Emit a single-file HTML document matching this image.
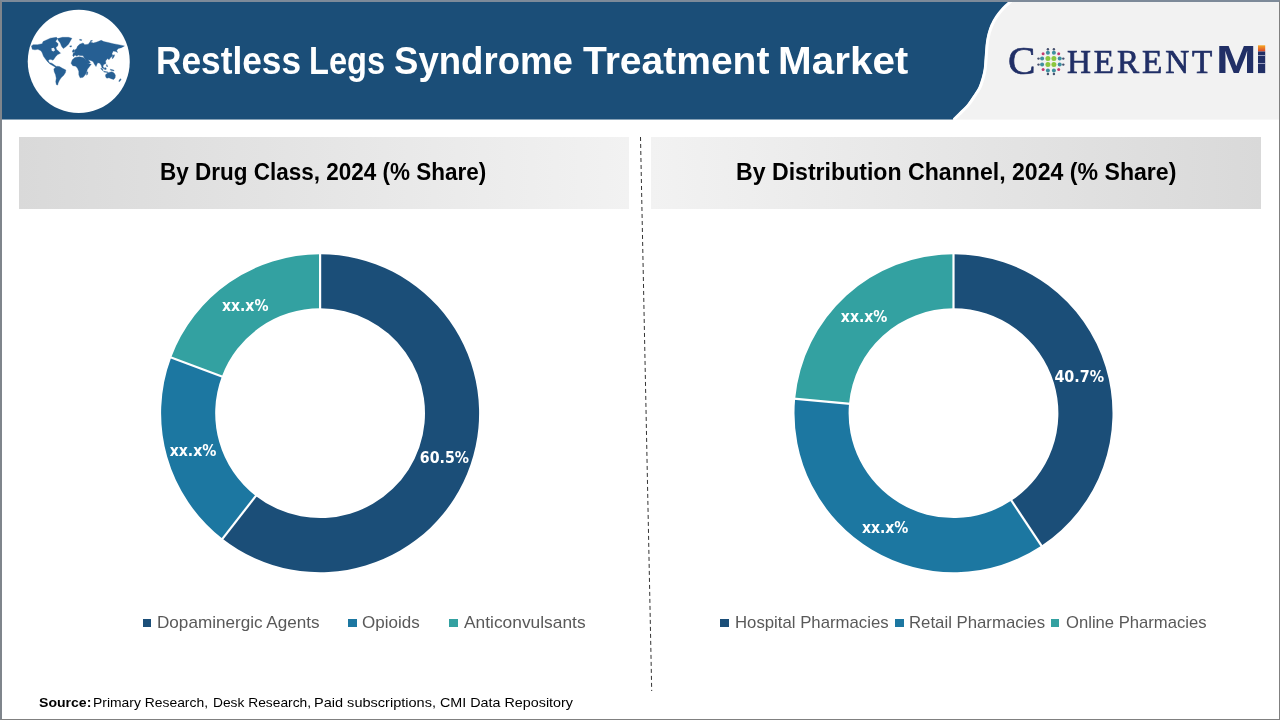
<!DOCTYPE html>
<html lang="en"><head><meta charset="utf-8">
<title>Restless Legs Syndrome Treatment Market</title>
<style>
html,body{margin:0;padding:0;background:#fff}
body{width:1280px;height:720px;position:relative;overflow:hidden;font-family:"Liberation Sans",sans-serif}
.frame{position:absolute;left:0;top:0;width:1280px;height:720px;box-sizing:border-box;border-style:solid;border-color:#7d8a99 #808080 #808080 #7f858c;border-width:2px 1.5px 1.5px 2px;pointer-events:none;z-index:9}
.t{position:absolute;white-space:nowrap;line-height:1;transform-origin:0 50%;margin:0;font-weight:normal;display:block}
header{position:absolute;left:0;top:0;width:1280px;height:120px}
header svg.bg{position:absolute;left:0;top:0}
.title{color:#fff;font-weight:bold}
.hw{margin:0;font-size:0;font-weight:normal}
.sub{position:absolute;top:137px;height:71.5px}
.sub.l{left:19px;width:609.5px;background:linear-gradient(90deg,#d9d9d9 0%,#f2f2f2 100%)}
.sub.r{left:651px;width:609.5px;background:linear-gradient(90deg,#f2f2f2 0%,#d9d9d9 100%)}
.h2{color:#000;font-weight:bold}
.lg{color:#595959}
.mk{position:absolute;width:8.8px;height:7.8px;top:619.1px}
.legend{list-style:none;margin:0;padding:0;font-size:0}
.legend li{display:inline}
.src{color:#000}
.sb{font-weight:bold}
svg.charts{position:absolute;left:0;top:0}
svg.charts text{font-family:"DejaVu Sans","Liberation Sans",sans-serif;font-weight:bold;font-size:16.5px;fill:#fff}
.logo{color:#212f66}
#lgM{font-weight:bold}
#lgH{letter-spacing:2.9px}
.serif{font-family:"Liberation Serif",serif;-webkit-text-stroke:0.7px #212f66}
</style></head>
<body>
<header>
<svg class="bg" width="1280" height="120" viewBox="0 0 1280 120">
<rect x="0" y="0" width="1280" height="119.6" fill="#f2f2f2"/>
<path d="M1011.5 0.0C1011.0 0.4 1010.3 0.7 1008.8 2.1C1007.2 3.5 1004.3 5.9 1002.1 8.3C999.9 10.7 997.3 13.9 995.4 16.7C993.5 19.5 992.0 22.2 990.8 25.0C989.5 27.8 988.7 30.5 987.9 33.3C987.1 36.1 986.7 38.9 986.2 41.7C985.8 44.5 985.6 47.2 985.4 50.0C985.2 52.8 985.0 55.1 984.8 58.3C984.5 61.5 984.4 65.7 983.9 69.0C983.4 72.3 982.8 75.0 981.9 78.0C981.0 81.0 980.2 84.1 978.8 87.1C977.4 90.1 975.3 93.1 973.3 96.1C971.3 99.1 969.5 102.1 967.0 105.1C964.5 108.1 960.4 111.8 958.0 114.2C955.6 116.6 953.5 118.7 952.6 119.6L0 119.6L0 0Z" fill="#1b4e78"/><path d="M1011.5 0.0C1011.0 0.4 1010.3 0.7 1008.8 2.1C1007.2 3.5 1004.3 5.9 1002.1 8.3C999.9 10.7 997.3 13.9 995.4 16.7C993.5 19.5 992.0 22.2 990.8 25.0C989.5 27.8 988.7 30.5 987.9 33.3C987.1 36.1 986.7 38.9 986.2 41.7C985.8 44.5 985.6 47.2 985.4 50.0C985.2 52.8 985.0 55.1 984.8 58.3C984.5 61.5 984.4 65.7 983.9 69.0C983.4 72.3 982.8 75.0 981.9 78.0C981.0 81.0 980.2 84.1 978.8 87.1C977.4 90.1 975.3 93.1 973.3 96.1C971.3 99.1 969.5 102.1 967.0 105.1C964.5 108.1 960.4 111.8 958.0 114.2C955.6 116.6 953.5 118.7 952.6 119.6" fill="none" stroke="#fff" stroke-width="3" transform="translate(1.3 0)"/>
<ellipse cx="78.75" cy="61.4" rx="51" ry="51.6" fill="#fff"/>
<g fill="#265f93" stroke="#265f93" stroke-width="4" stroke-linejoin="round" transform="translate(28 30) scale(0.0861)">
<polygon points="40,185 60,170 110,170 165,160 175,135 215,115 260,95 330,85 345,100 320,130 350,160 345,185 325,200 330,225 365,255 378,270 345,285 320,310 300,340 290,352 280,345 255,340 235,355 250,380 275,385 290,395 310,410 330,425 318,432 290,415 255,395 225,365 205,340 180,305 165,265 150,240 115,225 80,230 50,225 45,205"/>
<polygon points="345,100 400,85 470,85 510,97 490,130 470,165 440,195 410,215 390,190 375,150 350,120"/>
<polygon points="310,440 335,420 365,425 400,445 440,465 435,495 415,525 385,555 365,585 350,615 345,640 330,635 322,600 328,560 320,520 305,485 300,455"/>
<polygon points="500,385 515,345 545,320 600,310 640,320 660,335 685,370 700,395 735,395 715,425 690,455 680,490 665,520 640,550 605,555 590,520 590,480 575,445 555,420 520,415"/>
<polygon points="520,300 525,270 545,255 535,240 565,215 575,190 600,165 640,150 660,170 700,165 720,140 760,150 800,140 850,120 880,135 930,145 990,160 1050,170 1120,185 1085,205 1050,215 1030,235 1040,262 1020,250 990,245 975,275 985,300 960,320 940,345 925,330 900,360 905,390 880,400 870,420 885,450 860,440 850,410 835,385 810,380 800,400 790,425 770,395 755,365 730,355 700,345 725,380 700,395 680,375 660,335 650,320 640,300 600,295 580,290 570,305 545,290 530,310"/>
<polygon points="900,520 925,500 950,490 975,485 1000,500 1015,525 1012,555 995,575 965,565 940,555 915,560 903,545"/>
<polygon points="1060,580 1075,565 1082,572 1068,595 1055,598"/>
<polygon points="850,440 875,465 870,472 845,450"/>
<polygon points="885,440 905,438 910,455 892,462"/>
<polygon points="880,480 930,488 930,494 880,488"/>
<polygon points="955,455 995,465 1000,476 960,468"/>
<polygon points="915,400 925,420 918,430 910,410"/>
<polygon points="985,300 1000,285 1005,300 990,325 980,335 978,320"/>
<polygon points="520,235 535,225 540,250 525,262 515,255"/>
<polygon points="485,185 505,183 505,195 488,197"/>
<polygon points="680,495 695,485 692,515 680,525"/>
<polygon points="600,108 625,112 622,122 600,118"/>
<polygon points="720,128 745,120 748,128 725,136"/>
<polygon points="272,212 300,206 314,234 296,250 276,240" fill="#e9eef5" stroke="none"/>
</g>
</svg>
<h1 class="hw"><span id="tw1" class="t title" style="left:155.56340782122902px;top:41.30px;font-size:39.1px;transform:scaleX(0.9024)">Restless</span> <span id="tw2" class="t title" style="left:309.0860645561766px;top:41.30px;font-size:39.1px;transform:scaleX(0.8344)">Legs</span> <span id="tw3" class="t title" style="left:393.99832402234654px;top:41.30px;font-size:39.1px;transform:scaleX(0.9357)">Syndrome</span> <span id="tw4" class="t title" style="left:583.2176288019864px;top:41.30px;font-size:39.1px;transform:scaleX(0.9981)">Treatment</span> <span id="tw5" class="t title" style="left:777.8301572522241px;top:41.30px;font-size:39.1px;transform:scaleX(1.0346)">Market</span></h1>
<span id="lgC" class="t logo serif" style="left:1007.5548890741212px;top:39.59px;font-size:41px;transform:scaleX(1.0044)">C</span>
<span id="lgH" class="t logo serif" style="left:1067.39642857143px;top:44.73px;font-size:33.4px;transform:scaleX(0.9935)">HERENT</span>
<span id="lgM" class="t logo" style="left:1215.549551166965px;top:40.02px;font-size:39.2px;transform:scaleX(1.2389)">M</span>
<svg class="bg" width="1280" height="120" viewBox="0 0 1280 120" aria-hidden="true">
<g transform="translate(1050.9 61.6)">
<g fill="#8cc63f"><circle cx="-3" cy="-3" r="2.5"/><circle cx="3" cy="-3" r="2.5"/><circle cx="-3" cy="3" r="2.5"/><circle cx="3" cy="3" r="2.5"/></g>
<g fill="#3f8f9f"><circle cx="-3" cy="-8.8" r="2"/><circle cx="3" cy="-8.8" r="2"/><circle cx="-3" cy="8.8" r="2"/><circle cx="3" cy="8.8" r="2"/><circle cx="-8.8" cy="-3" r="2"/><circle cx="-8.8" cy="3" r="2"/><circle cx="8.8" cy="-3" r="2"/><circle cx="8.8" cy="3" r="2"/></g>
<g fill="#c43a6e"><circle cx="-7.8" cy="-7.8" r="1.5"/><circle cx="7.8" cy="-7.8" r="1.5"/><circle cx="-7.8" cy="7.8" r="1.5"/><circle cx="7.8" cy="7.8" r="1.5"/></g>
<g fill="#46506e"><circle cx="-3" cy="-12.4" r="1.2"/><circle cx="3" cy="-12.4" r="1.2"/><circle cx="-3" cy="12.4" r="1.2"/><circle cx="3" cy="12.4" r="1.2"/><circle cx="-12.4" cy="-3" r="1.2"/><circle cx="-12.4" cy="3" r="1.2"/><circle cx="12.4" cy="-3" r="1.2"/><circle cx="12.4" cy="3" r="1.2"/></g>
</g>
<defs><linearGradient id="og" x1="0" y1="0" x2="0" y2="1"><stop offset="0" stop-color="#f7a823"/><stop offset="1" stop-color="#d8432c"/></linearGradient></defs>
<rect x="1258" y="45.3" width="7.2" height="6.2" fill="url(#og)"/>
<rect x="1258" y="51.5" width="7.2" height="21.6" fill="#212f66"/>
<rect x="1258" y="55.2" width="7.2" height="0.7" fill="#c9cbe0"/>
<rect x="1258" y="63.3" width="7.2" height="0.7" fill="#c9cbe0"/>
</svg>
</header>

<main>
<div class="sub l"></div>
<div class="sub r"></div>
<h2 id="h2a" class="t h2" style="left:160.37067170870543px;top:159.81px;font-size:24.2px;transform:scaleX(0.9300)">By Drug Class, 2024 (% Share)</h2>
<h2 id="h2b" class="t h2" style="left:735.9877286135687px;top:159.81px;font-size:24.2px;transform:scaleX(0.9553)">By Distribution Channel, 2024 (% Share)</h2>

<svg class="charts" width="1280" height="720" viewBox="0 0 1280 720">
<line x1="640.5" y1="137" x2="651.7" y2="691" stroke="#333" stroke-width="1" stroke-dasharray="4 3"/>
<path d="M320.10 254.20A159.0 159.0 0 1 1 222.54 538.75L255.73 496.03A104.9 104.9 0 1 0 320.10 308.30Z" fill="#1b4e78"/>
<path d="M222.54 538.75A159.0 159.0 0 0 1 171.17 357.52L221.84 376.46A104.9 104.9 0 0 0 255.73 496.03Z" fill="#1c77a1"/>
<path d="M171.17 357.52A159.0 159.0 0 0 1 320.10 254.20L320.10 308.30A104.9 104.9 0 0 0 221.84 376.46Z" fill="#33a1a1"/>
<line x1="320.10" y1="309.80" x2="320.10" y2="252.70" stroke="#fff" stroke-width="2.2"/>
<line x1="256.65" y1="494.85" x2="221.62" y2="539.93" stroke="#fff" stroke-width="2.2"/>
<line x1="223.25" y1="376.99" x2="169.76" y2="356.99" stroke="#fff" stroke-width="2.2"/>
<path d="M953.50 254.20A159.0 159.0 0 0 1 1041.37 545.71L1011.47 500.62A104.9 104.9 0 0 0 953.50 308.30Z" fill="#1b4e78"/>
<path d="M1041.37 545.71A159.0 159.0 0 0 1 795.15 398.79L849.03 403.69A104.9 104.9 0 0 0 1011.47 500.62Z" fill="#1c77a1"/>
<path d="M795.15 398.79A159.0 159.0 0 0 1 953.50 254.20L953.50 308.30A104.9 104.9 0 0 0 849.03 403.69Z" fill="#33a1a1"/>
<line x1="953.50" y1="309.80" x2="953.50" y2="252.70" stroke="#fff" stroke-width="2.2"/>
<line x1="1010.65" y1="499.37" x2="1042.20" y2="546.96" stroke="#fff" stroke-width="2.2"/>
<line x1="850.53" y1="403.83" x2="793.66" y2="398.65" stroke="#fff" stroke-width="2.2"/>
<text id="d1a" x="419.82" y="463.0" textLength="49.27" lengthAdjust="spacingAndGlyphs">60.5%</text>
<text id="d1b" x="169.64" y="456.0" textLength="46.76" lengthAdjust="spacingAndGlyphs">xx.x%</text>
<text id="d1c" x="221.95" y="311.0" textLength="46.53" lengthAdjust="spacingAndGlyphs">xx.x%</text>
<text id="d2a" x="1054.39" y="382.1" textLength="49.77" lengthAdjust="spacingAndGlyphs">40.7%</text>
<text id="d2b" x="861.92" y="533.0" textLength="46.47" lengthAdjust="spacingAndGlyphs">xx.x%</text>
<text id="d2c" x="840.87" y="322.0" textLength="46.54" lengthAdjust="spacingAndGlyphs">xx.x%</text>

</svg>

<ul class="legend" aria-label="Drug class legend">
<li><i class="mk" style="left:143.1px;width:7.9px;background:#1b4e78"></i><span id="l1" class="t lg" style="left:157.41204819277112px;top:614.61px;font-size:15.7px;transform:scaleX(1.0904)">Dopaminergic Agents</span></li>
<li><i class="mk" style="left:348.1px;background:#1c77a1"></i><span id="l2" class="t lg" style="left:362.14578313252997px;top:614.61px;font-size:15.7px;transform:scaleX(1.0835)">Opioids</span></li>
<li><i class="mk" style="left:449.0px;background:#33a1a1"></i><span id="l3" class="t lg" style="left:463.6078313253013px;top:614.61px;font-size:15.7px;transform:scaleX(1.1069)">Anticonvulsants</span></li>
</ul>
<ul class="legend" aria-label="Distribution channel legend">
<li><i class="mk" style="left:720.0px;background:#1b4e78"></i><span id="l4" class="t lg" style="left:734.6337349397583px;top:614.61px;font-size:15.7px;transform:scaleX(1.0679)">Hospital Pharmacies</span></li>
<li><i class="mk" style="left:895.0px;background:#1c77a1"></i><span id="l5" class="t lg" style="left:908.8277108433728px;top:614.61px;font-size:15.7px;transform:scaleX(1.0689)">Retail Pharmacies</span></li>
<li><i class="mk" style="left:1051.1px;width:7.9px;background:#33a1a1"></i><span id="l6" class="t lg" style="left:1065.8999999999992px;top:614.61px;font-size:15.7px;transform:scaleX(1.0607)">Online Pharmacies</span></li>
</ul>

</main>
<footer><p class="hw"><span id="s1" class="t src sb" style="left:39.11960784313726px;top:695.80px;font-size:13px;transform:scaleX(1.0821)">Source:</span> <span id="s2" class="t src" style="left:92.97647058823529px;top:695.80px;font-size:13px;transform:scaleX(1.0685)">Primary Research,</span> <span id="s3" class="t src" style="left:212.49999999999997px;top:695.80px;font-size:13px;transform:scaleX(1.0600)">Desk Research,</span> <span id="s4" class="t src" style="left:314.3627450980392px;top:695.80px;font-size:13px;transform:scaleX(1.1175)">Paid subscriptions,</span> <span id="s5" class="t src" style="left:439.5196078431372px;top:695.80px;font-size:13px;transform:scaleX(1.1023)">CMI Data Repository</span></p></footer>
<div class="frame"></div>
</body></html>
